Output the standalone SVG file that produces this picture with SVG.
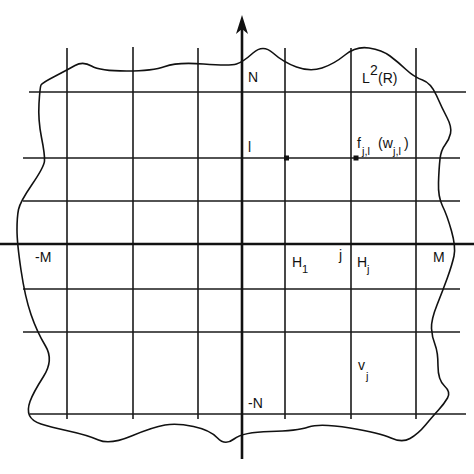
<svg xmlns="http://www.w3.org/2000/svg" width="474" height="474" viewBox="0 0 474 474">
<style>
.grid{stroke:#1a1a1a;stroke-width:1.6;fill:none}
.axis{stroke:#111;stroke-width:2.6;fill:none}
.blob{stroke:#111;stroke-width:1.6;fill:none;stroke-linejoin:round}
text{font-family:"Liberation Sans",Arial,sans-serif;font-size:14px;fill:#111}
.sub{font-size:11px}
</style>
<rect width="474" height="474" fill="#fff"/>
<g id="connectors">
<g id="grid-vertical">
<line class="grid" x1="67" y1="48" x2="67" y2="419"/>
<line class="grid" x1="133" y1="47" x2="133" y2="419"/>
<line class="grid" x1="198" y1="48" x2="198" y2="419"/>
<line class="grid" x1="285" y1="48" x2="285" y2="419"/>
<line class="grid" x1="351" y1="48" x2="351" y2="419"/>
<line class="grid" x1="416" y1="48" x2="416" y2="419"/>
</g>
<g id="grid-horizontal">
<line class="grid" x1="29" y1="92" x2="466" y2="92"/>
<line class="grid" x1="23" y1="158" x2="460" y2="158"/>
<line class="grid" x1="23" y1="201" x2="460" y2="201"/>
<line class="grid" x1="23" y1="289" x2="460" y2="289"/>
<line class="grid" x1="23" y1="332" x2="460" y2="332"/>
<line class="grid" x1="30" y1="414" x2="466" y2="414"/>
</g>
<g id="axes">
<line class="axis" x1="0" y1="244" x2="474" y2="244"/>
<line class="axis" x1="242" y1="24" x2="242" y2="459"/>
<polygon points="242,15 236,34 242,29 248,34" fill="#111"/>
</g>
</g>
<g id="region">
<path class="blob" d="M41,85 Q42,83 54.5,76.5 Q67,70 75,65.5 Q83,61 91.5,66 Q100,71 126.5,71 Q153,71 165,66.5 Q177,62 203.5,64 Q230,66 236.5,64 Q243,62 253,53 Q263,44 273,53 Q283,62 296.5,67 Q310,72 322,68 Q334,64 345,55 Q356,46 369,48 Q382,50 390,56 Q398,62 406,69.5 Q414,77 422.5,80 Q431,83 436.5,95.5 Q442,108 447,117.5 Q452,127 450.5,133.5 Q449,140 445,145 Q441,150 440,159 Q439,168 438.5,182.5 Q438,197 442.5,206 Q447,215 451.5,231 Q456,247 454,256 Q452,265 447.5,277.5 Q443,290 437,305 Q431,320 431.5,328.5 Q432,337 435,344.5 Q438,352 438,366 Q438,380 444.5,386 Q451,392 447.5,398 Q444,404 438.5,410 Q433,416 425.5,425 Q418,434 410,438.5 Q402,443 391,438 Q380,433 350,428 Q320,423 308.5,427 Q297,431 270,431.5 Q243,432 234,439 Q225,446 217.5,438 Q210,430 193.5,426.5 Q177,423 165,425 Q153,427 131.5,436 Q110,445 98.5,440 Q87,435 68.5,431 Q50,427 41,424 Q32,421 29.5,415.5 Q27,410 30,401.5 Q33,393 43.5,376.5 Q54,360 45.5,346 Q37,332 31,314.5 Q25,297 21,270 Q17,243 17,230 Q17,217 18.5,209.5 Q20,202 32,184.5 Q44,167 44.5,161 Q45,155 41.5,137.5 Q38,120 39,103.5 Q40,87 41,85 Z"/>
</g>
<g id="points">
<rect x="284" y="155.5" width="5" height="5" fill="#111"/>
<rect x="353.5" y="155.5" width="5" height="5" fill="#111"/>
</g>
<g id="labels">
<text x="248" y="82">N</text>
<text x="248" y="152">l</text>
<text x="248" y="408">-N</text>
<text x="35" y="262">-M</text>
<text x="433" y="262">M</text>
<text x="339" y="260">j</text>
<text x="362" y="83">L</text>
<text x="370" y="75">2</text>
<text x="378" y="83">(R)</text>
<text x="357" y="148">f</text>
<text class="sub" x="362" y="155">j,l</text>
<text x="378" y="148">(w</text>
<text class="sub" x="393" y="155">j,l</text>
<text x="404" y="148">)</text>
<text x="292" y="267">H</text>
<text class="sub" x="302" y="273">1</text>
<text x="357" y="267">H</text>
<text class="sub" x="367" y="273">j</text>
<text x="358" y="370">v</text>
<text class="sub" x="366" y="380">j</text>
</g>
</svg>
